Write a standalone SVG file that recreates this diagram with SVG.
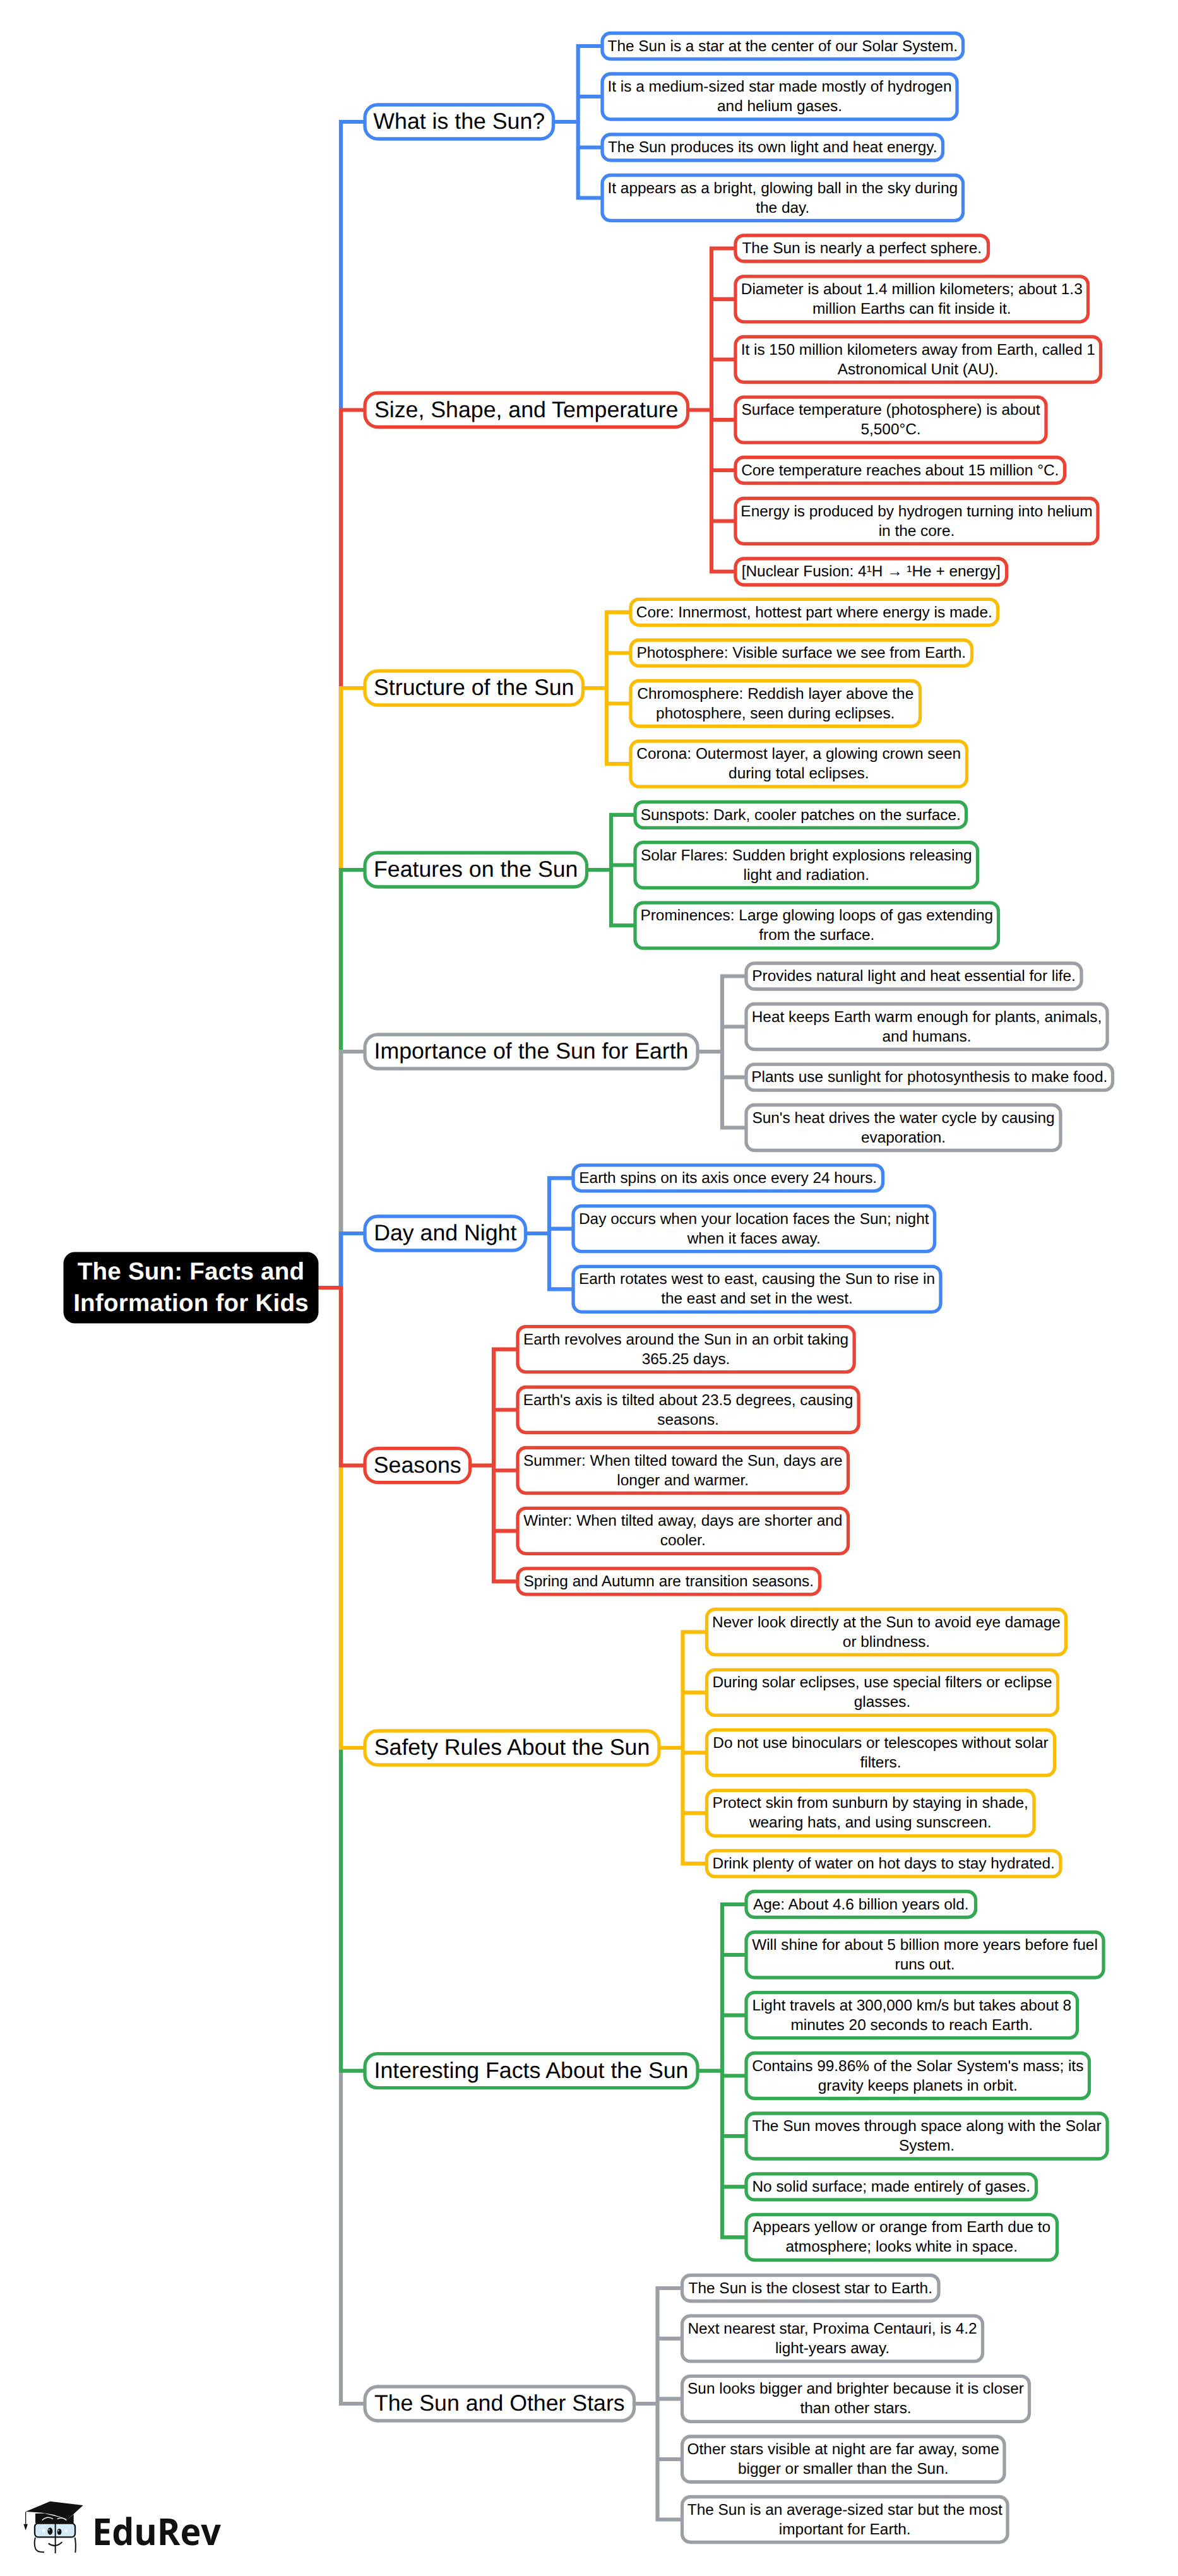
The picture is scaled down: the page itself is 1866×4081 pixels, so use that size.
<svg xmlns="http://www.w3.org/2000/svg" width="1866" height="4081" viewBox="0 0 1866 4081">
<style>
text{font-family:"Liberation Sans",Arial,sans-serif;fill:#000;text-anchor:middle;text-rendering:geometricPrecision}
.c text,text.c{font-size:24.4px}
.m text{font-size:35.7px}
.r text{font-size:38.6px;font-weight:700;fill:#fff;letter-spacing:.2px}
rect{fill:#fff;stroke-width:5.3}
.m rect{rx:20px;ry:20px}
.c rect{rx:13px;ry:13px}
path{fill:none;stroke-width:6.2;stroke-linejoin:miter}
.bl{stroke:#4285F4}.re{stroke:#EA4335}.ye{stroke:#FBBC04}.gr{stroke:#34A853}.gy{stroke:#9AA0A6}
</style>
<g id="connectors">
<path class="bl" d="M504 2040H540V193H578"/>
<path class="re" d="M504 2040H540V649.5H578"/>
<path class="ye" d="M504 2040H540V1090H578"/>
<path class="gr" d="M504 2040H540V1378H578"/>
<path class="gy" d="M504 2040H540V1666H578"/>
<path class="bl" d="M504 2040H540V1954H578"/>
<path class="gy" d="M504 2040H540V3808H578"/>
<path class="gr" d="M504 2040H540V3280.7H578"/>
<path class="ye" d="M504 2040H540V2769H578"/>
<path class="re" d="M504 2040H540V2321.6H578"/>
<path class="bl" d="M877 193H915.7M915.7 193V73H954M915.7 153H954M915.7 233.5H954M915.7 193V313.5H954"/>
<path class="re" d="M1090 649.5H1127M1127 649.5V393.5H1165M1127 473.8H1165M1127 569.5H1165M1127 665.2H1165M1127 745H1165M1127 825.5H1165M1127 649.5V905.5H1165"/>
<path class="ye" d="M924 1090H961M961 1090V969.8H999M961 1034.5H999M961 1114.5H999M961 1090V1210.2H999"/>
<path class="gr" d="M930 1378H968M968 1378V1290.8H1006M968 1370.5H1006M968 1378V1466.2H1006"/>
<path class="gy" d="M1105.5 1666H1144M1144 1666V1546.5H1182M1144 1626.5H1182M1144 1666V1786.5H1182M1144 1706.7H1182"/>
<path class="bl" d="M833 1954H870M870 1954V1866.3H908M870 1946.7H908M870 1954V2042.3H908"/>
<path class="re" d="M745 2321.6H782M782 2321.6V2137.6H820M782 2233.5H820M782 2321.6V2505.3H820M782 2329.5H820M782 2425.3H820"/>
<path class="ye" d="M1044.5 2769H1081.5M1081.5 2769V2585.5H1119.5M1081.5 2681.4H1119.5M1081.5 2769V2952.4H1119.5M1081.5 2776.6H1119.5M1081.5 2872.4H1119.5"/>
<path class="gr" d="M1105.5 3280.7H1144M1144 3280.7V3017H1182M1144 3097H1182M1144 3192.7H1182M1144 3280.7V3544.4H1182M1144 3288.5H1182M1144 3384H1182M1144 3464.4H1182"/>
<path class="gy" d="M1005 3808H1041.5M1041.5 3808V3625H1080.5M1041.5 3704.9H1080.5M1041.5 3800.3H1080.5M1041.5 3808V3991.5H1080.5M1041.5 3896H1080.5"/>
</g>
<g id="root" class="r"><rect x="100.5" y="1983.5" width="404" height="113" rx="18" ry="18" style="fill:#000;stroke:none"/><text x="302.5" y="2026.7">The Sun: Facts and</text><text x="302.5" y="2077.3">Information for Kids</text></g>

<g id="n1" class="m"><rect class="bl" x="578" y="166" width="298.5" height="54"/><text x="727.25" y="204">What is the Sun?</text></g>
<g id="n1-1" class="c"><rect class="bl" x="954" y="52.5" width="571.5" height="41"/><text x="1239.75" y="80.7">The Sun is a star at the center of our Solar System.</text></g>
<g id="n1-2" class="c"><rect class="bl" x="954" y="117" width="562" height="72"/><text x="1235" y="145">It is a medium-sized star made mostly of hydrogen</text><text x="1235" y="176">and helium gases.</text></g>
<g id="n1-3" class="c"><rect class="bl" x="954" y="213" width="539.5" height="41"/><text x="1223.75" y="241.2">The Sun produces its own light and heat energy.</text></g>
<g id="n1-4" class="c"><rect class="bl" x="954" y="277.5" width="571.5" height="72"/><text x="1239.75" y="305.5">It appears as a bright, glowing ball in the sky during</text><text x="1239.75" y="336.5">the day.</text></g>

<g id="n2" class="m"><rect class="re" x="578" y="622.5" width="511.5" height="54"/><text x="833.75" y="660.5">Size, Shape, and Temperature</text></g>
<g id="n2-1" class="c"><rect class="re" x="1165" y="373" width="400.5" height="41"/><text x="1365.25" y="401.2">The Sun is nearly a perfect sphere.</text></g>
<g id="n2-2" class="c"><rect class="re" x="1165" y="437.8" width="558.5" height="72"/><text x="1444.25" y="465.8">Diameter is about 1.4 million kilometers; about 1.3</text><text x="1444.25" y="496.8">million Earths can fit inside it.</text></g>
<g id="n2-3" class="c"><rect class="re" x="1165" y="533.5" width="578.5" height="72"/><text x="1454.25" y="561.5">It is 150 million kilometers away from Earth, called 1</text><text x="1454.25" y="592.5">Astronomical Unit (AU).</text></g>
<g id="n2-4" class="c"><rect class="re" x="1165" y="629.2" width="492" height="72"/><text x="1411" y="657.2">Surface temperature (photosphere) is about</text><text x="1411" y="688.2">5,500°C.</text></g>
<g id="n2-5" class="c"><rect class="re" x="1165" y="724.5" width="521.5" height="41"/><text x="1425.75" y="752.7">Core temperature reaches about 15 million °C.</text></g>
<g id="n2-6" class="c"><rect class="re" x="1165" y="789.5" width="574" height="72"/><text x="1452" y="817.5">Energy is produced by hydrogen turning into helium</text><text x="1452" y="848.5">in the core.</text></g>
<g id="n2-7" class="c"><rect class="re" x="1165" y="885" width="429.5" height="41.5"/><text x="1379.75" y="913.3">[Nuclear Fusion: 4¹H → ¹He + energy]</text></g>

<g id="n3" class="m"><rect class="ye" x="578" y="1063" width="345.5" height="54"/><text x="750.75" y="1101">Structure of the Sun</text></g>
<g id="n3-1" class="c"><rect class="ye" x="999" y="949.3" width="581.5" height="41"/><text x="1289.75" y="977.5">Core: Innermost, hottest part where energy is made.</text></g>
<g id="n3-2" class="c"><rect class="ye" x="999" y="1014" width="540.5" height="41"/><text x="1269.25" y="1042.2">Photosphere: Visible surface we see from Earth.</text></g>
<g id="n3-3" class="c"><rect class="ye" x="999" y="1078.5" width="458.5" height="72"/><text x="1228.25" y="1106.5">Chromosphere: Reddish layer above the</text><text x="1228.25" y="1137.5">photosphere, seen during eclipses.</text></g>
<g id="n3-4" class="c"><rect class="ye" x="999" y="1174.2" width="532.5" height="72"/><text x="1265.25" y="1202.2">Corona: Outermost layer, a glowing crown seen</text><text x="1265.25" y="1233.2">during total eclipses.</text></g>

<g id="n4" class="m"><rect class="gr" x="578" y="1351" width="351.5" height="54"/><text x="753.75" y="1389">Features on the Sun</text></g>
<g id="n4-1" class="c"><rect class="gr" x="1006" y="1270.3" width="524.5" height="41"/><text x="1268.25" y="1298.5">Sunspots: Dark, cooler patches on the surface.</text></g>
<g id="n4-2" class="c"><rect class="gr" x="1006" y="1334.5" width="542.5" height="72"/><text x="1277.25" y="1362.5">Solar Flares: Sudden bright explosions releasing</text><text x="1277.25" y="1393.5">light and radiation.</text></g>
<g id="n4-3" class="c"><rect class="gr" x="1006" y="1430.2" width="575.5" height="72"/><text x="1293.75" y="1458.2">Prominences: Large glowing loops of gas extending</text><text x="1293.75" y="1489.2">from the surface.</text></g>

<g id="n5" class="m"><rect class="gy" x="578" y="1639" width="527" height="54"/><text x="841.5" y="1677">Importance of the Sun for Earth</text></g>
<g id="n5-1" class="c"><rect class="gy" x="1182" y="1526" width="531" height="41"/><text x="1447.5" y="1554.2">Provides natural light and heat essential for life.</text></g>
<g id="n5-2" class="c"><rect class="gy" x="1182" y="1590.5" width="572" height="72"/><text x="1468" y="1618.5">Heat keeps Earth warm enough for plants, animals,</text><text x="1468" y="1649.5">and humans.</text></g>
<g id="n5-3" class="c"><rect class="gy" x="1182" y="1686.2" width="580.5" height="41"/><text x="1472.25" y="1714.4">Plants use sunlight for photosynthesis to make food.</text></g>
<g id="n5-4" class="c"><rect class="gy" x="1182" y="1750.5" width="498" height="72"/><text x="1431" y="1778.5">Sun's heat drives the water cycle by causing</text><text x="1431" y="1809.5">evaporation.</text></g>

<g id="n6" class="m"><rect class="bl" x="578" y="1927" width="254.5" height="54"/><text x="705.25" y="1965">Day and Night</text></g>
<g id="n6-1" class="c"><rect class="bl" x="908" y="1845.8" width="490.5" height="41"/><text x="1153.25" y="1874">Earth spins on its axis once every 24 hours.</text></g>
<g id="n6-2" class="c"><rect class="bl" x="908" y="1910.7" width="572.5" height="72"/><text x="1194.25" y="1938.7">Day occurs when your location faces the Sun; night</text><text x="1194.25" y="1969.7">when it faces away.</text></g>
<g id="n6-3" class="c"><rect class="bl" x="908" y="2006.3" width="582" height="72"/><text x="1199" y="2034.3">Earth rotates west to east, causing the Sun to rise in</text><text x="1199" y="2065.3">the east and set in the west.</text></g>

<g id="n7" class="m"><rect class="re" x="578" y="2294.6" width="166.5" height="54"/><text x="661.25" y="2332.5">Seasons</text></g>
<g id="n7-1" class="c"><rect class="re" x="820" y="2101.6" width="533.1" height="72"/><text x="1086.55" y="2129.6">Earth revolves around the Sun in an orbit taking</text><text x="1086.55" y="2160.6">365.25 days.</text></g>
<g id="n7-2" class="c"><rect class="re" x="820" y="2197.5" width="540.1" height="72"/><text x="1090.05" y="2225.5">Earth's axis is tilted about 23.5 degrees, causing</text><text x="1090.05" y="2256.5">seasons.</text></g>
<g id="n7-3" class="c"><rect class="re" x="820" y="2293.5" width="523.5" height="72"/><text x="1081.75" y="2321.5">Summer: When tilted toward the Sun, days are</text><text x="1081.75" y="2352.5">longer and warmer.</text></g>
<g id="n7-4" class="c"><rect class="re" x="820" y="2389.3" width="523.5" height="72"/><text x="1081.75" y="2417.3">Winter: When tilted away, days are shorter and</text><text x="1081.75" y="2448.3">cooler.</text></g>
<g id="n7-5" class="c"><rect class="re" x="820" y="2484.8" width="478.5" height="41"/><text x="1059.25" y="2513">Spring and Autumn are transition seasons.</text></g>

<g id="n8" class="m"><rect class="ye" x="578" y="2742" width="466" height="54"/><text x="811" y="2780">Safety Rules About the Sun</text></g>
<g id="n8-1" class="c"><rect class="ye" x="1119.5" y="2549.5" width="569" height="72"/><text x="1404" y="2577.5">Never look directly at the Sun to avoid eye damage</text><text x="1404" y="2608.5">or blindness.</text></g>
<g id="n8-2" class="c"><rect class="ye" x="1119.5" y="2645.4" width="556" height="72"/><text x="1397.5" y="2673.4">During solar eclipses, use special filters or eclipse</text><text x="1397.5" y="2704.4">glasses.</text></g>
<g id="n8-3" class="c"><rect class="ye" x="1119.5" y="2740.6" width="551" height="72"/><text x="1395" y="2768.6">Do not use binoculars or telescopes without solar</text><text x="1395" y="2799.6">filters.</text></g>
<g id="n8-4" class="c"><rect class="ye" x="1119.5" y="2836.4" width="518.5" height="72"/><text x="1378.75" y="2864.4">Protect skin from sunburn by staying in shade,</text><text x="1378.75" y="2895.4">wearing hats, and using sunscreen.</text></g>
<g id="n8-5" class="c"><rect class="ye" x="1119.5" y="2931.9" width="560.5" height="41"/><text x="1399.75" y="2960.1">Drink plenty of water on hot days to stay hydrated.</text></g>

<g id="n9" class="m"><rect class="gr" x="578" y="3253.7" width="527" height="54"/><text x="841.5" y="3291.7">Interesting Facts About the Sun</text></g>
<g id="n9-1" class="c"><rect class="gr" x="1182" y="2996.5" width="363.5" height="41"/><text x="1363.75" y="3024.7">Age: About 4.6 billion years old.</text></g>
<g id="n9-2" class="c"><rect class="gr" x="1182" y="3061" width="566" height="72"/><text x="1465" y="3089">Will shine for about 5 billion more years before fuel</text><text x="1465" y="3120">runs out.</text></g>
<g id="n9-3" class="c"><rect class="gr" x="1182" y="3156.7" width="524.5" height="72"/><text x="1444.25" y="3184.7">Light travels at 300,000 km/s but takes about 8</text><text x="1444.25" y="3215.7">minutes 20 seconds to reach Earth.</text></g>
<g id="n9-4" class="c"><rect class="gr" x="1182" y="3252.5" width="543.5" height="72"/><text x="1453.75" y="3280.5">Contains 99.86% of the Solar System's mass; its</text><text x="1453.75" y="3311.5">gravity keeps planets in orbit.</text></g>
<g id="n9-5" class="c"><rect class="gr" x="1182" y="3348" width="572" height="72"/><text x="1468" y="3376">The Sun moves through space along with the Solar</text><text x="1468" y="3407">System.</text></g>
<g id="n9-6" class="c"><rect class="gr" x="1182" y="3443.9" width="459.5" height="41"/><text x="1411.75" y="3472.1">No solid surface; made entirely of gases.</text></g>
<g id="n9-7" class="c"><rect class="gr" x="1182" y="3508.4" width="492.5" height="72"/><text x="1428.25" y="3536.4">Appears yellow or orange from Earth due to</text><text x="1428.25" y="3567.4">atmosphere; looks white in space.</text></g>

<g id="n10" class="m"><rect class="gy" x="578" y="3781" width="426.5" height="54"/><text x="791.25" y="3819">The Sun and Other Stars</text></g>
<g id="n10-1" class="c"><rect class="gy" x="1080.5" y="3604.5" width="406.5" height="41"/><text x="1283.75" y="3632.7">The Sun is the closest star to Earth.</text></g>
<g id="n10-2" class="c"><rect class="gy" x="1080.5" y="3668.9" width="476" height="72"/><text x="1318.5" y="3696.9">Next nearest star, Proxima Centauri, is 4.2</text><text x="1318.5" y="3727.9">light-years away.</text></g>
<g id="n10-3" class="c"><rect class="gy" x="1080.5" y="3764.3" width="550" height="72"/><text x="1355.5" y="3792.3">Sun looks bigger and brighter because it is closer</text><text x="1355.5" y="3823.3">than other stars.</text></g>
<g id="n10-4" class="c"><rect class="gy" x="1080.5" y="3860" width="510.5" height="72"/><text x="1335.75" y="3888">Other stars visible at night are far away, some</text><text x="1335.75" y="3919">bigger or smaller than the Sun.</text></g>
<g id="n10-5" class="c"><rect class="gy" x="1080.5" y="3955.5" width="515.5" height="72"/><text x="1338.25" y="3983.5">The Sun is an average-sized star but the most</text><text x="1338.25" y="4014.5">important for Earth.</text></g>

<g id="logo">
<g transform="translate(20 3950) scale(.33333)">
<polygon points="62,87 178,38 335,57 262,124 195,102 140,92" fill="#111"/>
<polygon points="108,96 150,95 262,124 290,100 290,142 108,142" fill="#111"/>
<path d="M140 128Q165 105 192 122M212 122Q235 110 256 128" style="stroke:#fff;stroke-width:4"/>
<path d="M62 88V146" style="stroke:#111;stroke-width:4"/>
<polygon points="52,146 72,146 62,176" fill="#111"/>
<rect x="105" y="143" width="192" height="65" rx="16" ry="16" style="fill:#d3e9f8;stroke:#111;stroke-width:7"/>
<path d="M203 140V285M108 210Q100 235 108 262Q112 280 150 280M296 210Q302 240 298 282M170 238Q203 262 235 232" style="stroke:#111;stroke-width:6"/>
<ellipse cx="178" cy="180" rx="12" ry="17" fill="#111"/>
<ellipse cx="222" cy="183" rx="10" ry="14" fill="#111"/>
<circle cx="173" cy="174" r="3" fill="#fff"/><circle cx="218" cy="178" r="3" fill="#fff"/>
<path d="M141 172h12v12h-12zM248 172h12v12h-12z" style="fill:#fff;stroke:none"/>
</g>
<text x="146" y="4031.7" textLength="204" lengthAdjust="spacingAndGlyphs" style="font-family:'Open Sans','Noto Sans',sans-serif;font-size:59px;font-weight:700;text-anchor:start;fill:#111">EduRev</text>
</g>
</svg>
